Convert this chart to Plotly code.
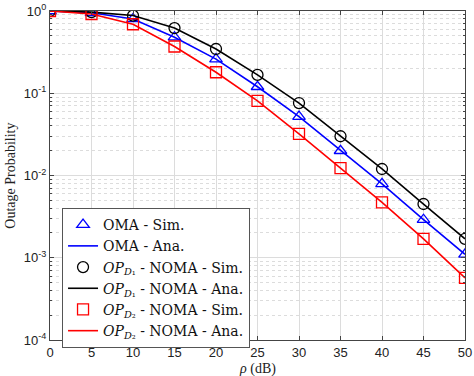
import plotly.graph_objects as go

rho = [0, 5, 10, 15, 20, 25, 30, 35, 40, 45, 50]
oma = [1.0, 0.95, 0.80, 0.48, 0.26, 0.12, 0.052, 0.020, 0.0079, 0.0029, 0.0011]
noma_d1 = [1.0, 0.97, 0.88, 0.62, 0.345, 0.167, 0.076, 0.030, 0.012, 0.0045, 0.0017]
noma_d2 = [1.0, 0.92, 0.69, 0.37, 0.18, 0.081, 0.032, 0.0123, 0.0047, 0.0017, 0.00057]

y_tickvals = [1e-4, 1e-3, 1e-2, 1e-1, 1]
y_ticktext = ["10<sup>-4</sup>", "10<sup>-3</sup>", "10<sup>-2</sup>", "10<sup>-1</sup>", "10<sup>0</sup>"]
x_tickvals = rho

OP1 = "<i>OP</i><sub><i>D</i>\u2081</sub>"
OP2 = "<i>OP</i><sub><i>D</i>\u2082</sub>"

series = [
    ("OMA", oma, "#0000ff", "triangle-up-open"),
    (OP1 + " - NOMA", noma_d1, "#000000", "circle-open"),
    (OP2 + " - NOMA", noma_d2, "#ff0000", "square-open"),
]

SERIF = "Liberation Serif, Times New Roman, serif"

fig = go.Figure()
for name, vals, col, sym in series:
    fig.add_trace(go.Scatter(x=rho, y=vals, mode="markers", name=name + " - Sim.",
                             marker=dict(symbol=sym, size=11, color=col, line=dict(width=1.3, color=col))))
    fig.add_trace(go.Scatter(x=rho, y=vals, mode="lines", name=name + " - Ana.",
                             line=dict(color=col, width=1.6)))

fig.update_layout(
    width=474, height=376,
    margin=dict(l=50, r=9, t=11, b=36, autoexpand=False),
    paper_bgcolor="white", plot_bgcolor="white",
    font=dict(family="Liberation Sans, Arial", size=12, color="#222"),
    legend=dict(x=0.029, y=0.401, xanchor="left", yanchor="top",
                bgcolor="white", bordercolor="#555", borderwidth=1,
                font=dict(family="DejaVu Serif, serif", size=14, color="#111"),
                tracegroupgap=0, itemwidth=30),
    showlegend=True,
    annotations=[
        dict(text="<i>\u03c1</i> (dB)", xref="paper", yref="paper", x=0.5, y=-0.057,
             xanchor="center", yanchor="top", showarrow=False,
             font=dict(family=SERIF, size=14, color="#222")),
        dict(text="Outage Probability", xref="paper", yref="paper", x=-0.096, y=0.5,
             xanchor="center", yanchor="middle", textangle=-90, showarrow=False,
             font=dict(family=SERIF, size=14, color="#222")),
    ],
)
fig.update_xaxes(
    range=[0, 50], tickvals=x_tickvals, ticks="inside", ticklen=4, tickcolor="#444",
    showline=True, linecolor="#444", linewidth=1, mirror="allticks", automargin=False,
    showgrid=True, gridcolor="#dcdcdc", gridwidth=1, zeroline=False,
    tickfont=dict(size=13, color="#222"),
)
fig.update_yaxes(
    type="log", range=[-4, 0], tickvals=y_tickvals, ticktext=y_ticktext,
    ticks="inside", ticklen=4, tickcolor="#444", automargin=False,
    showline=True, linecolor="#444", linewidth=1, mirror="allticks",
    showgrid=True, gridcolor="#dcdcdc", gridwidth=1, zeroline=False,
    minor=dict(ticks="inside", ticklen=2, tickcolor="#444", showgrid=True, gridcolor="#dcdcdc", griddash="dot",
               tickvals=[m * 10 ** e for e in range(-4, 0) for m in range(2, 10)]),
    tickfont=dict(size=13, color="#222"),
)
# remove the default 8px page margin so the figure fills the window exactly
fig.write_html("out.html", config={"displayModeBar": False},
               post_script="document.body.style.margin='0';document.body.style.overflow='hidden';")
